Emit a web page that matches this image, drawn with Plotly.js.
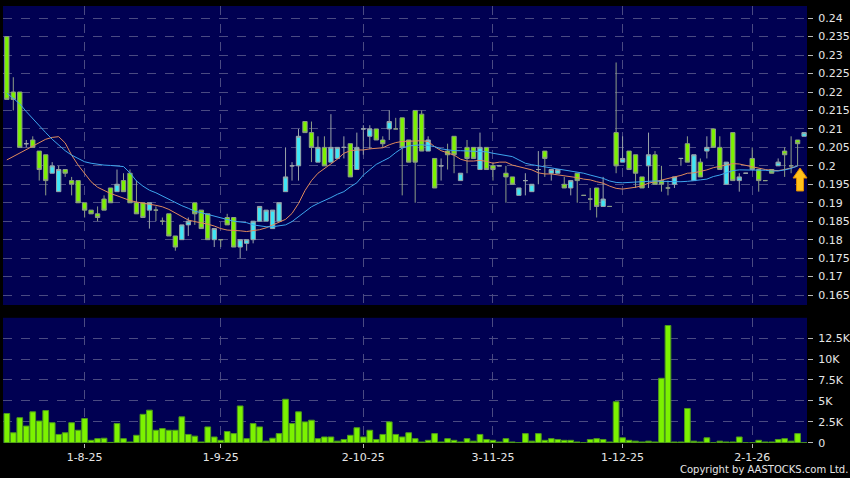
<!DOCTYPE html>
<html>
<head>
<meta charset="utf-8">
<script src="https://cdn.plot.ly/plotly-3.0.1.min.js"></script>
<style>
  html, body { margin: 0; padding: 0; background: #000; }
  #chart { width: 850px; height: 478px; }
</style>
</head>
<body>
<div id="chart"></div>
<script>
// ---- Data (one entry per trading day) ----
const openP = [
0.235,0.220,0.220,0.206,0.207,0.204,0.203,0.198,0.193,0.199,
0.196,0.196,0.190,0.188,0.187,0.191,0.194,0.193,0.196,0.198,
0.190,0.190,0.188,0.188,0.185,0.187,0.181,0.180,0.184,0.190,
0.188,0.187,0.180,0.180,0.186,0.186,0.178,0.179,0.180,0.185,
0.185,0.183,0.185,0.193,0.200,0.200,0.212,0.209,0.201,0.205,
0.201,0.202,0.205,0.206,0.199,0.210,0.208,0.210,0.207,0.210,
0.210,0.213,0.207,0.215,0.214,0.204,0.202,0.200,0.204,0.208,
0.196,0.205,0.205,0.199,0.205,0.200,0.200,0.198,0.197,0.192,
0.196,0.193,0.199,0.204,0.198,0.198,0.195,0.194,0.198,0.192,
0.191,0.194,0.189,0.189,0.209,0.201,0.204,0.203,0.197,0.200,
0.203,0.196,0.194,0.195,0.202,0.206,0.196,0.201,0.204,0.210,
0.205,0.195,0.209,0.196,0.198,0.202,0.199,0.196,0.199,0.200,
0.204,0.200,0.207,0.208];
const highP = [
0.235,0.224,0.220,0.207,0.208,0.204,0.203,0.201,0.200,0.199,
0.197,0.196,0.190,0.188,0.189,0.192,0.194,0.199,0.198,0.199,
0.196,0.190,0.190,0.189,0.186,0.187,0.181,0.184,0.186,0.190,
0.188,0.187,0.183,0.180,0.187,0.186,0.180,0.180,0.185,0.189,
0.188,0.188,0.190,0.205,0.201,0.210,0.212,0.212,0.208,0.208,
0.214,0.205,0.208,0.206,0.209,0.211,0.211,0.210,0.208,0.215,
0.213,0.213,0.207,0.215,0.215,0.208,0.202,0.202,0.206,0.208,
0.198,0.207,0.205,0.209,0.205,0.201,0.200,0.200,0.197,0.194,
0.198,0.195,0.204,0.204,0.199,0.199,0.197,0.196,0.198,0.192,
0.194,0.194,0.197,0.189,0.228,0.208,0.204,0.203,0.197,0.209,
0.204,0.200,0.196,0.197,0.202,0.208,0.203,0.202,0.208,0.210,
0.208,0.201,0.209,0.198,0.198,0.205,0.199,0.196,0.199,0.202,
0.205,0.208,0.207,0.209];
const lowP = [
0.218,0.215,0.205,0.205,0.205,0.196,0.192,0.198,0.193,0.197,
0.192,0.190,0.186,0.187,0.185,0.188,0.190,0.193,0.193,0.190,
0.187,0.186,0.183,0.185,0.184,0.181,0.177,0.180,0.181,0.184,
0.183,0.180,0.178,0.178,0.184,0.178,0.175,0.177,0.179,0.185,
0.185,0.183,0.185,0.193,0.196,0.196,0.209,0.201,0.201,0.200,
0.201,0.202,0.202,0.197,0.199,0.203,0.2045,0.207,0.205,0.207,
0.210,0.192,0.201,0.190,0.204,0.204,0.194,0.196,0.199,0.198,
0.196,0.198,0.202,0.199,0.199,0.196,0.200,0.190,0.195,0.192,
0.192,0.193,0.195,0.197,0.196,0.198,0.194,0.192,0.190,0.192,
0.188,0.186,0.189,0.189,0.198,0.201,0.199,0.194,0.194,0.194,
0.195,0.193,0.192,0.194,0.200,0.201,0.196,0.197,0.202,0.205,
0.199,0.195,0.196,0.193,0.198,0.199,0.193,0.196,0.198,0.200,
0.197,0.198,0.200,0.208];
const closeP = [
0.218,0.218,0.205,0.206,0.205,0.199,0.196,0.200,0.199,0.198,
0.195,0.190,0.188,0.187,0.186,0.188,0.190,0.195,0.193,0.190,
0.187,0.186,0.190,0.188,0.185,0.181,0.178,0.184,0.185,0.187,
0.183,0.180,0.183,0.180,0.184,0.178,0.180,0.180,0.185,0.189,
0.188,0.188,0.190,0.197,0.200,0.208,0.209,0.205,0.205,0.200,
0.205,0.205,0.205,0.197,0.205,0.210,0.210,0.207,0.206,0.212,
0.210,0.205,0.201,0.201,0.204,0.207,0.194,0.200,0.203,0.203,
0.198,0.202,0.202,0.205,0.199,0.199,0.200,0.197,0.195,0.194,
0.196,0.195,0.199,0.202,0.199,0.199,0.194,0.196,0.196,0.192,
0.191,0.189,0.191,0.189,0.200,0.202,0.199,0.198,0.194,0.203,
0.195,0.195,0.194,0.197,0.202,0.201,0.203,0.197,0.205,0.205,
0.199,0.201,0.196,0.197,0.198,0.199,0.196,0.196,0.198,0.201,
0.203,0.200,0.206,0.209];
const volume = [
3500,1200,3000,2000,3700,2600,3850,2400,1000,1200,
2400,1500,2900,300,500,550,50,2300,500,100,
900,3400,3900,1500,1700,1500,1500,3100,1000,800,
100,1900,700,300,1350,1100,4400,500,2300,1900,
200,550,1100,5200,2300,3700,2500,2700,500,700,
700,200,400,900,1800,700,1500,400,1000,2500,
1000,700,1200,500,100,300,1100,100,500,300,
100,500,200,1000,400,300,100,500,100,0,
1100,200,1100,300,500,400,300,300,100,0,
400,500,400,100,4900,600,300,200,100,200,
100,7700,14000,100,100,4100,200,100,600,0,
200,100,100,700,0,0,300,100,100,400,
500,200,1100,0];
// moving averages (orange = short, blue = long)
const maShort = [
0.2016,0.2025,0.2036,0.2043,0.2052,0.2063,0.2072,0.2077,0.2079,0.2062,
0.2029,0.2002,0.1978,0.1957,0.1942,0.1933,0.1925,0.1919,0.1912,0.1906,
0.1902,0.1898,0.1896,0.1893,0.1889,0.1882,0.1873,0.1862,0.1853,0.1849,
0.1846,0.1842,0.1837,0.1830,0.1826,0.1826,0.1824,0.1822,0.1824,0.1827,
0.1832,0.1840,0.1848,0.1855,0.1871,0.1898,0.1933,0.1960,0.1980,0.1993,
0.2007,0.2018,0.2034,0.2041,0.2043,0.2043,0.2046,0.2047,0.2049,0.2057,
0.2063,0.2066,0.2067,0.2068,0.2068,0.2066,0.2052,0.2041,0.2036,0.2029,
0.2018,0.2013,0.2013,0.2015,0.2012,0.2007,0.2010,0.2010,0.2002,0.1998,
0.1993,0.1989,0.1981,0.1978,0.1978,0.1976,0.1972,0.1970,0.1968,0.1964,
0.1962,0.1957,0.1953,0.1945,0.1939,0.1937,0.1939,0.1942,0.1946,0.1953,
0.1957,0.1962,0.1966,0.1970,0.1974,0.1980,0.1981,0.1984,0.1989,0.1995,
0.1998,0.2003,0.2006,0.2005,0.2001,0.1998,0.1993,0.1990,0.1988,0.1987,
0.1990,0.1995,0.1999,null];
const maLong = [
0.2197,0.2183,0.2168,0.2147,0.2127,0.2108,0.2090,0.2072,0.2057,0.2041,
0.2029,0.2019,0.2011,0.2007,0.2004,0.2002,0.2001,0.2000,0.1998,0.1981,
0.1959,0.1945,0.1934,0.1927,0.1918,0.1909,0.1900,0.1892,0.1885,0.1877,
0.1873,0.1868,0.1864,0.1858,0.1853,0.1850,0.1848,0.1846,0.1840,0.1837,
0.1835,0.1835,0.1837,0.1840,0.1849,0.1862,0.1876,0.1889,0.1898,0.1905,
0.1914,0.1923,0.1930,0.1943,0.1954,0.1975,0.1990,0.2004,0.2013,0.2022,
0.2036,0.2048,0.2054,0.2056,0.2057,0.2055,0.2052,0.2046,0.2043,0.2041,
0.2041,0.2040,0.2038,0.2038,0.2038,0.2034,0.2031,0.2028,0.2025,0.2016,
0.2007,0.2003,0.2000,0.1998,0.1995,0.1993,0.1990,0.1987,0.1984,0.1980,
0.1975,0.1971,0.1966,0.1959,0.1955,0.1954,0.1955,0.1957,0.1958,0.1959,
0.1959,0.1958,0.1957,0.1957,0.1957,0.1958,0.1959,0.1962,0.1964,0.1971,
0.1975,0.1982,0.1987,0.1989,0.1989,0.1989,0.1989,0.1988,0.1986,0.1986,
0.1989,0.1993,0.2000,null];

const dateTickIdx = [12, 33, 55, 75, 95, 115];
const dateTickText = ['1-8-25','1-9-25','2-10-25','3-11-25','1-12-25','2-1-26'];
const priceTickVals = [0.165,0.17,0.175,0.18,0.185,0.19,0.195,0.2,0.205,0.21,0.215,0.22,0.225,0.23,0.235,0.24];
const priceTickText = ['0.165','0.17','0.175','0.18','0.185','0.19','0.195','0.2','0.205','0.21','0.215','0.22','0.225','0.23','0.235','0.24'];
const volTickVals = [0,2500,5000,7500,10000,12500];
const volTickText = ['0','2.5K','5K','7.5K','10K','12.5K'];

// ---- Build chart ----
const idx = openP.map((_, i) => i);
const gridCol = '#4a4a82';
const txtCol = '#e6e6e6';
const font = {family: 'DejaVu Sans, Verdana, sans-serif', size: 11, color: txtCol};

const traces = [
  {
    type: 'candlestick', x: idx, open: openP, high: highP, low: lowP, close: closeP,
    xaxis: 'x', yaxis: 'y', whiskerwidth: 0,
    increasing: {fillcolor: '#3ee6f6', line: {color: '#9aa4a8', width: 1}},
    decreasing: {fillcolor: '#7cf200', line: {color: '#8e9e86', width: 1}},
    hoverinfo: 'skip', showlegend: false
  },
  {
    type: 'scatter', mode: 'lines', x: idx, y: maShort, xaxis: 'x', yaxis: 'y',
    line: {color: '#e08a5c', width: 1}, hoverinfo: 'skip', showlegend: false
  },
  {
    type: 'scatter', mode: 'lines', x: idx, y: maLong, xaxis: 'x', yaxis: 'y',
    line: {color: '#3ea6ee', width: 1}, hoverinfo: 'skip', showlegend: false
  },
  {
    type: 'bar', x: idx, y: volume, xaxis: 'x2', yaxis: 'y2',
    marker: {color: '#7cf200', line: {color: '#4c9a1c', width: 1}},
    hoverinfo: 'skip', showlegend: false
  }
];

const xRange = [-0.59, 123.45];
const layout = {
  width: 850, height: 478,
  margin: {l: 3, r: 43, t: 6, b: 35, pad: 0},
  paper_bgcolor: '#000000',
  plot_bgcolor: '#000052',
  font: font,
  showlegend: false,
  boxgap: 0.05,
  bargap: 0.12,
  xaxis: {
    domain: [0, 1], anchor: 'y', range: xRange,
    tickvals: dateTickIdx, ticktext: dateTickText, showticklabels: false,
    ticks: '', showgrid: true, gridcolor: gridCol, griddash: 'dash', gridwidth: 1,
    zeroline: false, showline: false, rangeslider: {visible: false}, fixedrange: true
  },
  yaxis: {
    domain: [0.3158, 1], anchor: 'x', side: 'right', range: [0.1623, 0.2433],
    tickvals: priceTickVals, ticktext: priceTickText,
    ticks: 'outside', ticklen: 5, tickcolor: '#b8b8b8', ticklabelstandoff: 3,
    showgrid: true, gridcolor: gridCol, griddash: 'dash', gridwidth: 1,
    zeroline: false, showline: false, tickfont: font, fixedrange: true
  },
  xaxis2: {
    domain: [0, 1], anchor: 'y2', range: xRange,
    tickvals: dateTickIdx, ticktext: dateTickText,
    ticks: 'outside', ticklen: 4, tickcolor: '#b8b8b8',
    showgrid: true, gridcolor: gridCol, griddash: 'dash', gridwidth: 1,
    zeroline: false, showline: false, tickfont: font, fixedrange: true
  },
  yaxis2: {
    domain: [0, 0.2865], anchor: 'x2', side: 'right', range: [-20, 14920],
    tickvals: volTickVals, ticktext: volTickText,
    ticks: 'outside', ticklen: 5, tickcolor: '#b8b8b8', ticklabelstandoff: 3,
    showgrid: true, gridcolor: gridCol, griddash: 'dash', gridwidth: 1,
    zeroline: false, showline: false, tickfont: font, fixedrange: true
  },
  shapes: [
    { // yellow up arrow marker (decoration)
      type: 'path', xref: 'paper', yref: 'paper',
      path: 'M 0.9913 0.6293 L 1.0 0.6064 L 0.9957 0.6064 L 0.9957 0.5767 L 0.9870 0.5767 L 0.9870 0.6064 L 0.9826 0.6064 Z',
      fillcolor: '#ffc21a', line: {color: '#e08a00', width: 1}
    }
  ],
  annotations: [
    {
      text: 'Copyright by AASTOCKS.com Ltd.', xref: 'paper', yref: 'paper',
      x: 1.0535, y: -0.0615, xanchor: 'right', yanchor: 'middle', showarrow: false,
      font: {family: 'DejaVu Sans, Verdana, sans-serif', size: 10, color: txtCol}
    }
  ]
};

Plotly.newPlot('chart', traces, layout, {displayModeBar: false, staticPlot: true});
</script>
</body>
</html>
